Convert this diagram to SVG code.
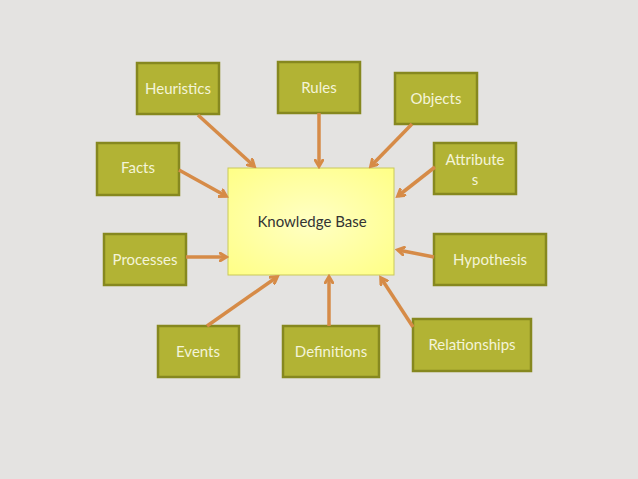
<svg xmlns="http://www.w3.org/2000/svg" width="638" height="479" viewBox="0 0 638 479">
<defs>
<radialGradient id="kbg" cx="0.5" cy="0.5" r="0.7">
<stop offset="0" stop-color="#FFFFC4"/>
<stop offset="1" stop-color="#FFFF86"/>
</radialGradient>
<marker id="ah" markerWidth="10" markerHeight="10" refX="7" refY="5" orient="auto" markerUnits="userSpaceOnUse">
<path d="M0,0.5 L7.5,5 L0,9.5" fill="none" stroke="#D68B47" stroke-width="3" stroke-linejoin="miter"/>
</marker>
</defs>
<style>
.n rect{fill:#B2B334;stroke:#86881F;stroke-width:2.5}
.n text{font-family:Lato,"Open Sans","Liberation Sans",sans-serif;font-size:15px;fill:#F4F4D8;text-anchor:middle}
.c line{stroke:#D68B47;stroke-width:3.5;marker-end:url(#ah)}
</style>
<rect width="638" height="479" fill="#E4E3E1"/>
<g id="kb">
<rect x="228" y="168" width="166" height="107" fill="url(#kbg)" stroke="#C9C95A" stroke-width="1"/>
<text x="312" y="227" font-family="Lato,'Open Sans','Liberation Sans',sans-serif" font-size="15" fill="#333" text-anchor="middle">Knowledge Base</text>
</g>
<g id="heuristics" class="n"><rect x="137" y="63" width="82" height="51"/><text x="178" y="94">Heuristics</text></g>
<g id="rules" class="n"><rect x="278" y="62" width="82" height="51"/><text x="319" y="93">Rules</text></g>
<g id="objects" class="n"><rect x="395" y="73" width="82" height="51"/><text x="436" y="104">Objects</text></g>
<g id="facts" class="n"><rect x="97" y="143" width="82" height="52"/><text x="138" y="173">Facts</text></g>
<g id="attributes" class="n"><rect x="434" y="143" width="82" height="51"/><text x="475" y="165">Attribute</text><text x="475" y="185">s</text></g>
<g id="processes" class="n"><rect x="104" y="234" width="82" height="51"/><text x="145" y="265">Processes</text></g>
<g id="hypothesis" class="n"><rect x="434" y="234" width="112" height="51"/><text x="490" y="265">Hypothesis</text></g>
<g id="events" class="n"><rect x="158" y="326" width="81" height="51"/><text x="198" y="357">Events</text></g>
<g id="definitions" class="n"><rect x="283" y="326" width="96" height="51"/><text x="331" y="357">Definitions</text></g>
<g id="relationships" class="n"><rect x="413" y="319" width="118" height="52"/><text x="472" y="350">Relationships</text></g>
<g id="connectors" class="c">
<line x1="198" y1="115" x2="254" y2="166"/>
<line x1="319" y1="113" x2="319" y2="166"/>
<line x1="412" y1="124" x2="371" y2="166"/>
<line x1="179" y1="170" x2="226" y2="196"/>
<line x1="435" y1="167" x2="398" y2="196"/>
<line x1="186" y1="257" x2="226" y2="257"/>
<line x1="434" y1="257" x2="398" y2="250"/>
<line x1="207" y1="326" x2="277" y2="277"/>
<line x1="329" y1="326" x2="329" y2="277"/>
<line x1="413" y1="327" x2="381" y2="278"/>
</g>
</svg>
